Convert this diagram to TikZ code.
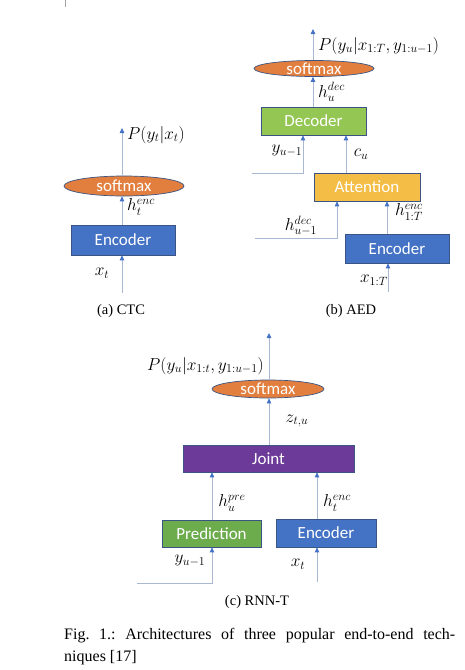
\documentclass[tikz,border=0pt]{standalone}
\usepackage{fontspec}
\setmainfont{Liberation Serif}
\newfontfamily\boxfont{Carlito}
\usetikzlibrary{arrows.meta,shapes.geometric}
\definecolor{encblue}{HTML}{4472C4}
\definecolor{bordc}{HTML}{3A5584}
\definecolor{smorange}{HTML}{E27F3F}
\definecolor{decgreen}{HTML}{94C653}
\definecolor{attgold}{HTML}{F4BD45}
\definecolor{jointpurple}{HTML}{6C3A99}
\definecolor{predgreen}{HTML}{6DAC4C}
\definecolor{linec}{HTML}{A9B7D0}
\definecolor{arrowc}{HTML}{4472C4}
\tikzset{
  blk/.style={rectangle,draw=bordc,line width=0.7pt,inner sep=0pt,text=white,
    font=\boxfont\fontsize{17}{17}\selectfont},
  smell/.style={ellipse,draw=bordc,fill=smorange,line width=0.7pt,inner sep=0pt},
  smtext/.style={inner sep=0pt,text=white,font=\boxfont\fontsize{17}{17}\selectfont},
  conn/.style={draw=linec,line width=0.8pt,-{Triangle[width=4.5pt,length=5pt,color=arrowc]}},
  lbl/.style={inner sep=0pt,font=\fontsize{16.5}{18}\selectfont},
  subcap/.style={inner sep=0pt,font=\fontsize{14.5}{16}\selectfont},
  figcap/.style={inner sep=0pt,font=\fontsize{16}{22}\selectfont\frenchspacing,anchor=base west}
}
\begin{document}
\begin{tikzpicture}[x=1pt,y=-1pt]
\useasboundingbox (0,0) rectangle (464,670);
% small mark at top
\coordinate (mk1) at (65,0);
\coordinate (mk2) at (65,7);
\draw[gray!70,line width=0.8pt] (mk1) -- (mk2);

% ---------------- (a) CTC ----------------
\node[blk,fill=encblue,minimum width=104pt,minimum height=30pt] (enc1) at (123,240) {Encoder};
\node[smell,minimum width=120pt,minimum height=20pt] (sm1) at (124,186) {};
\node[smtext] (sm1t) at (sm1.center) {softmax};
\coordinate (ctop) at (122,128);
\coordinate (cbot) at (122,293);
\draw[conn] (cbot) -- (cbot |- enc1.south);
\draw[conn] (cbot |- enc1.north) -- (cbot |- sm1.south);
\draw[conn] (cbot |- sm1.north) -- (ctop);
\node[lbl,anchor=west] (pa) at (127,135) {$P(y_t|x_t)$};
\node[lbl,anchor=west] (ha) at (127,207) {$h_t^{enc}$};
\node[lbl] (xa) at (102,273) {$x_t$};
\node[subcap] (capa) at (121,311) {(a) CTC};

% ---------------- (b) AED ----------------
\node[smell,minimum width=120pt,minimum height=16pt] (sm2) at (314,68.5) {};
\node[smtext] (sm2t) at (sm2.center) {softmax};
\node[blk,fill=decgreen,minimum width=105pt,minimum height=28pt] (dec) at (313.5,121) {Decoder};
\node[blk,fill=attgold,minimum width=106pt,minimum height=28pt] (att) at (367,187) {Attention};
\node[blk,fill=encblue,minimum width=104pt,minimum height=29pt] (enc2) at (397,248.5) {Encoder};
\coordinate (btop) at (313,29);
\coordinate (bmain) at (313,100);
\draw[conn] (bmain |- dec.north) -- (bmain |- sm2.south);
\draw[conn] (bmain |- sm2.north) -- (btop);
\coordinate (yb0) at (252,173);
\coordinate (yb1) at (303,173);
\draw[conn] (yb0) -- (yb1) -- (yb1 |- dec.south);
\coordinate (cu) at (346,173);
\draw[conn] (cu |- att.north) -- (cu |- dec.south);
\coordinate (hd0) at (255,238);
\coordinate (hd1) at (337,238);
\draw[conn] (hd0) -- (hd1) -- (hd1 |- att.south);
\coordinate (he) at (387,230);
\draw[conn] (he |- enc2.north) -- (he |- att.south);
\coordinate (xb) at (388,292);
\draw[conn] (xb) -- (xb |- enc2.south);
\node[lbl,anchor=west] (pb) at (318,46) {$P(y_u|x_{1:T},y_{1:u-1})$};
\node[lbl,anchor=west] (hb) at (318,92) {$h_u^{dec}$};
\node[lbl] (yb) at (287,151) {$y_{u-1}$};
\node[lbl] (cb) at (361,154) {$c_u$};
\node[lbl] (hdb) at (301,226) {$h_{u-1}^{dec}$};
\node[lbl] (heb) at (409,212) {$h_{1:T}^{enc}$};
\node[lbl] (xbl) at (374,280) {$x_{1:T}$};
\node[subcap] (capb) at (351,311) {(b) AED};

% ---------------- (c) RNN-T ----------------
\node[smell,minimum width=112pt,minimum height=18pt] (sm3) at (268,389) {};
\node[smtext] (sm3t) at (sm3.center) {softmax};
\node[blk,fill=jointpurple,minimum width=171pt,minimum height=27pt] (joint) at (268.5,458.5) {Joint};
\node[blk,fill=predgreen,minimum width=99pt,minimum height=27pt] (pred) at (211.5,533.5) {Prediction};
\node[blk,fill=encblue,minimum width=100pt,minimum height=28pt] (enc3) at (326,533) {Encoder};
\coordinate (ctop3) at (269,333);
\coordinate (cm3) at (269,420);
\draw[conn] (cm3 |- joint.north) -- (cm3 |- sm3.south);
\draw[conn] (cm3 |- sm3.north) -- (ctop3);
\coordinate (hp) at (212,500);
\draw[conn] (hp |- pred.north) -- (hp |- joint.south);
\coordinate (hec) at (317,500);
\draw[conn] (hec |- enc3.north) -- (hec |- joint.south);
\coordinate (yc0) at (137,583);
\coordinate (yc1) at (212,583);
\draw[conn] (yc0) -- (yc1) -- (yc1 |- pred.south);
\coordinate (xc) at (317,582);
\draw[conn] (xc) -- (xc |- enc3.south);
\node[lbl,anchor=west] (pc) at (147,366) {$P(y_u|x_{1:t},y_{1:u-1})$};
\node[lbl] (zc) at (297,421) {$z_{t,u}$};
\node[lbl] (hpc) at (232,503) {$h_u^{pre}$};
\node[lbl] (hec2) at (337,503) {$h_t^{enc}$};
\node[lbl] (yc) at (190,561) {$y_{u-1}$};
\node[lbl] (xcl) at (298,564) {$x_t$};
\node[subcap] (capc) at (257,602) {(c) RNN-T};

% ---------------- figure caption ----------------
\node[figcap] (fc1) at (64,639) {\hbox to 391pt{Fig. 1.: Architectures of three popular end-to-end tech-}};
\node[figcap] (fc2) at (64,661) {niques [17]};
\end{tikzpicture}
\end{document}
